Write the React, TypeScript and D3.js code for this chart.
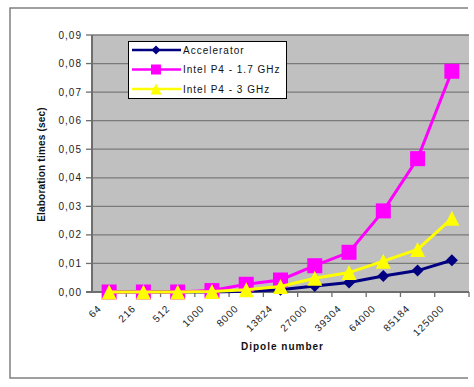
import React from "react";
import * as d3 from "d3";

const categories = ["64", "216", "512", "1000", "8000", "13824", "27000", "39304", "64000", "85184", "125000"];
const accelerator = [0, 0, 0, 0, 0.0003, 0.0008, 0.0021, 0.0033, 0.0056, 0.0075, 0.0111];
const intel17 = [0, 0, 0, 0.0005, 0.0027, 0.0042, 0.0092, 0.0139, 0.0284, 0.0467, 0.0773];
const intel3 = [0, 0, 0, 0.0002, 0.0008, 0.0019, 0.0048, 0.0068, 0.0108, 0.0149, 0.0258];
const yTicks = [0, 0.01, 0.02, 0.03, 0.04, 0.05, 0.06, 0.07, 0.08, 0.09];
const seriesNames = ["Accelerator", "Intel P4 - 1.7 GHz", "Intel P4 - 3 GHz"];

const W = 474, H = 387;
const L = 92, R = 469, T = 35, B = 292;
const FONT = "'Liberation Sans', Arial, sans-serif";

function Marker({ kind, x, y, size, color }: { kind: string; x: number; y: number; size: number; color: string }) {
  if (kind === "square") {
    return <rect x={x - size / 2} y={y - size / 2} width={size} height={size} fill={color} />;
  }
  if (kind === "triangle") {
    const h = size;
    return <path d={`M${x},${y - h / 2} L${x + size / 2},${y + h / 2} L${x - size / 2},${y + h / 2} Z`} fill={color} />;
  }
  const s = size / 2;
  return <path d={`M${x},${y - s} L${x + s},${y} L${x},${y + s} L${x - s},${y} Z`} fill={color} />;
}

export default function App() {
  const x = d3.scaleBand<string>().domain(categories).range([L, R]);
  const y = d3.scaleLinear().domain([0, 0.09]).range([B, T]);
  const cx = (c: string) => (x(c) as number) + x.bandwidth() / 2;
  const fmt = (v: number) => d3.format(".2f")(v).replace(".", ",");

  const series = [
    { name: seriesNames[0], values: accelerator, color: "#000080", marker: "diamond", size: 12, lsize: 9 },
    { name: seriesNames[1], values: intel17, color: "#ff00ff", marker: "square", size: 15, lsize: 10 },
    { name: seriesNames[2], values: intel3, color: "#ffff00", marker: "triangle", size: 15, lsize: 11 },
  ];
  const line = d3.line<number>().x((_, i) => cx(categories[i])).y((v) => y(v));

  return (
    <svg width={W} height={H} style={{ position: "absolute", left: 0, top: 0, background: "#fff" }} fontFamily={FONT}>
      {/* frame */}
      <path d={`M468,8 L10,8 L10,378 L468,378`} fill="none" stroke="#808080" strokeWidth={1.5} />
      {/* plot area */}
      <rect x={L} y={T} width={R - L} height={B - T} fill="#c0c0c0" />
      {yTicks.map((t) => (
        <line key={t} x1={L} x2={R} y1={y(t)} y2={y(t)} stroke="#7a7a7a" strokeWidth={1.3} />
      ))}
      {/* y axis */}
      <line x1={L} x2={L} y1={T} y2={B} stroke="#6e6e6e" strokeWidth={2} />
      {yTicks.map((t) => (
        <g key={"yt" + t}>
          <line x1={L - 6} x2={L} y1={y(t)} y2={y(t)} stroke="#6e6e6e" strokeWidth={1.3} />
          <text x={82} y={y(t)} dy="0.35em" textAnchor="end" fontSize={10} letterSpacing={1} fill="#222">
            {fmt(t)}
          </text>
        </g>
      ))}
      {/* x axis */}
      <line x1={L - 6} x2={R} y1={B} y2={B} stroke="#6e6e6e" strokeWidth={2} />
      {categories.map((c, i) => (
        <line key={"xt" + c} x1={(x(c) as number) + x.bandwidth()} x2={(x(c) as number) + x.bandwidth()} y1={B} y2={B + 5} stroke="#6e6e6e" strokeWidth={1.3} />
      ))}
      {categories.map((c) => (
        <text key={"xl" + c} transform={`translate(${cx(c) - 7},${B + 17}) rotate(-45)`} textAnchor="end" fontSize={10} letterSpacing={1} fill="#222">
          {c}
        </text>
      ))}
      {/* series */}
      {series.map((s) => (
        <g key={s.name}>
          <path d={line(s.values) as string} fill="none" stroke={s.color} strokeWidth={3} />
          {s.values.map((v, i) => (
            <Marker key={i} kind={s.marker} x={cx(categories[i])} y={y(v)} size={s.size} color={s.color} />
          ))}
        </g>
      ))}
      {/* legend */}
      <rect x={128.5} y={41.5} width={158} height={57} fill="#fff" stroke="#000" strokeWidth={1} />
      {series.map((s, i) => {
        const ly = 50 + i * 19.5;
        return (
          <g key={"lg" + s.name}>
            <line x1={132} x2={181} y1={ly} y2={ly} stroke={s.color} strokeWidth={2.5} />
            <Marker kind={s.marker} x={156} y={ly} size={s.lsize} color={s.color} />
            <text x={183} y={ly} dy="0.35em" fontSize={10} letterSpacing={1} fill="#111">
              {s.name}
            </text>
          </g>
        );
      })}
      {/* axis titles */}
      <text transform={`translate(45,${(T + B) / 2 + 1}) rotate(-90)`} textAnchor="middle" fontSize={10} fontWeight="bold" letterSpacing={0.2} fill="#111">
        Elaboration times (sec)
      </text>
      <text x={(L + R) / 2 + 2} y={350} textAnchor="middle" fontSize={10} fontWeight="bold" letterSpacing={1} fill="#111">
        Dipole number
      </text>
    </svg>
  );
}
